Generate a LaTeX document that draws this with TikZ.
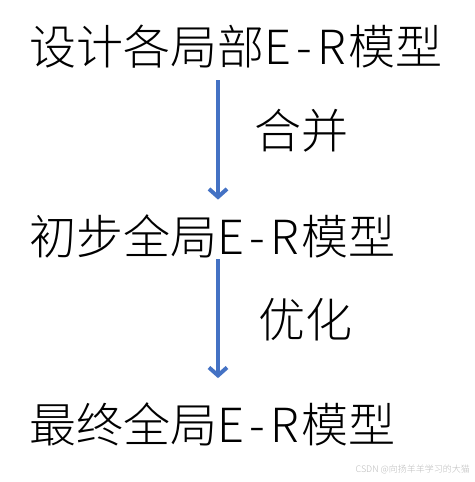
\documentclass[tikz,border=0pt]{standalone}
\usepackage{fontspec}
\setmainfont{Noto Sans CJK SC}[UprightFont={* Light}]
\usetikzlibrary{arrows.meta,calc}
\definecolor{arrowblue}{HTML}{4472C4}
\definecolor{wmgray}{HTML}{BBBBBB}
\newcommand{\ERtxt}{E\kern5pt-\kern6pt R\kern2pt}
\tikzset{
  bigtext/.style={inner sep=0pt, font=\fontsize{47}{47}\selectfont, text=black},
  arr/.style={draw=arrowblue, line width=4pt, -{Straight Barb[length=8pt,width=18pt]}},
  wm/.style={inner sep=0pt, font=\fontsize{9}{9}\selectfont, text=wmgray}
}
\begin{document}
\begin{tikzpicture}[x=1pt,y=-1pt]
\useasboundingbox (0,0) rectangle (474,482);
\node[bigtext, anchor=west] (a) at (29,46.5) {设计各局部\ERtxt 模型};
\node[bigtext, anchor=west] (b) at (29,236.5) {初步全局\ERtxt 模型};
\node[bigtext, anchor=west] (c) at (29,424) {最终全局\ERtxt 模型};
\node[bigtext] (l1) at (301,131) {合并};
\node[bigtext] (l2) at (305,320) {优化};
\coordinate (ax) at (218,0);
\draw[arr, shorten <=12pt, shorten >=15pt] (a.south -| ax) -- (b.north -| ax);
\draw[arr, shorten <=1pt, shorten >=24pt] (b.south -| ax) -- (c.north -| ax);
\node[wm, anchor=east] (w) at (470,469) {CSDN @向扬羊羊学习的大猫};
\end{tikzpicture}
\end{document}
